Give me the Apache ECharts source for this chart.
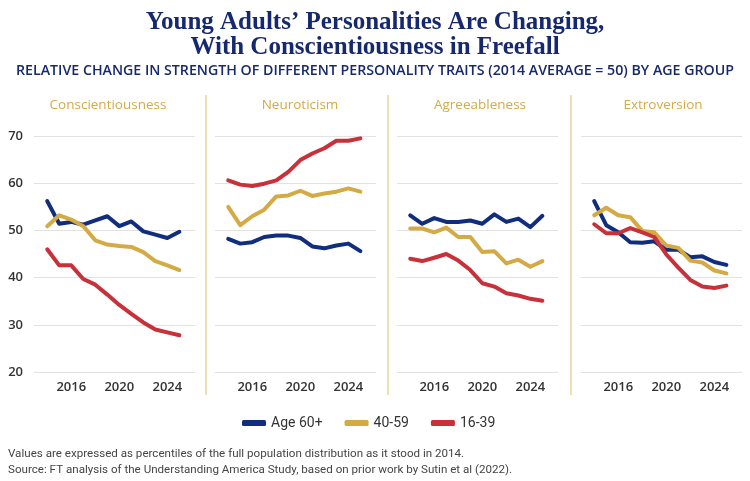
<!DOCTYPE html>
<html>
<head>
<meta charset="utf-8">
<script src="https://cdn.jsdelivr.net/npm/echarts@6.0.0/dist/echarts.min.js"></script>
<style>
  html, body { margin: 0; padding: 0; background: #fff; }
  #grafico { width: 750px; height: 481px; }
</style>
</head>
<body>
<div id="grafico"></div>
<script>
var years = [2014, 2015, 2016, 2017, 2018, 2019, 2020, 2021, 2022, 2023, 2024, 2025];
var yearTicks = [2016, 2020, 2024];
var traits = ['Conscientiousness', 'Neuroticism', 'Agreeableness', 'Extroversion'];
var groups = ['Age 60+', '40-59', '16-39'];

// Conscientiousness
var consc60 = [56.2, 51.4, 51.8, 51.2, 52.1, 53.0, 50.9, 51.9, 49.8, 49.1, 48.4, 49.7];
var consc40 = [50.9, 53.2, 52.3, 50.9, 47.9, 47.0, 46.7, 46.5, 45.4, 43.5, 42.6, 41.6];
var consc16 = [46.0, 42.6, 42.6, 39.7, 38.5, 36.4, 34.2, 32.3, 30.5, 29.0, 28.4, 27.8];
// Neuroticism
var neuro60 = [48.2, 47.2, 47.5, 48.6, 48.9, 48.9, 48.4, 46.6, 46.2, 46.8, 47.2, 45.6];
var neuro40 = [55.0, 51.1, 53.0, 54.4, 57.2, 57.4, 58.4, 57.3, 57.8, 58.2, 58.9, 58.2];
var neuro16 = [60.6, 59.7, 59.4, 59.9, 60.6, 62.4, 64.9, 66.3, 67.4, 69.0, 69.0, 69.5];
// Agreeableness
var agree60 = [53.2, 51.4, 52.6, 51.8, 51.8, 52.1, 51.4, 53.4, 51.8, 52.5, 50.7, 53.1];
var agree40 = [50.4, 50.4, 49.6, 50.6, 48.6, 48.6, 45.4, 45.6, 43.0, 43.8, 42.3, 43.5];
var agree16 = [44.0, 43.5, 44.2, 45.0, 43.6, 41.6, 38.8, 38.1, 36.7, 36.2, 35.5, 35.1];
// Extroversion
var extro60 = [56.2, 51.1, 49.6, 47.5, 47.4, 47.7, 45.9, 45.9, 44.3, 44.5, 43.3, 42.7];
var extro40 = [53.2, 54.8, 53.2, 52.8, 49.9, 49.6, 46.8, 46.3, 43.6, 43.2, 41.5, 40.9];
var extro16 = [51.3, 49.4, 49.4, 50.5, 49.6, 48.6, 44.9, 42.1, 39.5, 38.1, 37.8, 38.3];

var panelData = [
    [consc60, consc40, consc16],
    [neuro60, neuro40, neuro16],
    [agree60, agree40, agree16],
    [extro60, extro40, extro16]
];

var colors = ['#112d7e', '#d4aa45', '#c8303a'];
var gridLefts = [34, 215, 397, 581];
var titleCenters = [108, 300, 480, 663];
var sepX = [206, 388, 571];

var chartDom = document.getElementById('grafico');
var myChart = echarts.init(chartDom);

function pairs(vals) {
    return vals.map(function (v, i) { return [years[i], v]; });
}

var grids = [], xAxes = [], yAxes = [], series = [];
var titles = [
    {
        text: 'Young Adults\u2019 Personalities Are Changing,\nWith Conscientiousness in Freefall',
        left: 'center',
        top: 5,
        textStyle: {
            fontFamily: 'Liberation Serif',
            fontWeight: 'bold',
            fontSize: 25,
            lineHeight: 25,
            color: '#17296e'
        }
    },
    {
        text: 'RELATIVE CHANGE IN STRENGTH OF DIFFERENT PERSONALITY TRAITS (2014 AVERAGE = 50) BY AGE GROUP',
        left: 'center',
        top: 64,
        padding: 0,
        textStyle: {
            fontFamily: 'Open Sans',
            fontWeight: 600,
            fontSize: 14.2,
            color: '#17296e'
        }
    }
];

traits.forEach(function (t, p) {
    grids.push({ left: gridLefts[p], top: 136, width: 161, height: 236 });
    xAxes.push({
        gridIndex: p,
        type: 'value',
        min: 2012.9,
        max: 2026.3,
        axisLine: { show: false },
        axisTick: { show: false },
        splitLine: { show: false },
        axisLabel: {
            customValues: yearTicks,
            formatter: function (v) { return String(v); },
            margin: 9,
            fontFamily: 'Open Sans',
            fontWeight: 600,
            fontSize: 13,
            color: '#333'
        }
    });
    yAxes.push({
        gridIndex: p,
        type: 'value',
        min: 20,
        max: 70,
        interval: 10,
        axisLine: { show: false },
        axisTick: { show: false },
        splitLine: { lineStyle: { color: '#e2e2e2', width: 1 } },
        axisLabel: {
            show: p === 0,
            margin: 11,
            fontFamily: 'Open Sans',
            fontWeight: 600,
            fontSize: 13,
            color: '#333'
        }
    });
    titles.push({
        text: t,
        left: titleCenters[p],
        textAlign: 'center',
        top: 98,
        padding: 0,
        textStyle: {
            fontFamily: 'Open Sans',
            fontWeight: 500,
            fontSize: 13.5,
            color: '#d4aa45'
        }
    });
    groups.forEach(function (g, k) {
        series.push({
            name: g,
            type: 'line',
            xAxisIndex: p,
            yAxisIndex: p,
            data: pairs(panelData[p][k]),
            showSymbol: false,
            symbol: 'none',
            color: colors[k],
            lineStyle: { width: 4, color: colors[k], cap: 'round', join: 'round' }
        });
    });
});

var graphics = sepX.map(function (x) {
    return {
        type: 'line',
        shape: { x1: x, y1: 95, x2: x, y2: 395 },
        style: { stroke: '#e8d59d', lineWidth: 1.5 }
    };
});
graphics.push({
    type: 'text',
    left: 8,
    top: 446,
    style: {
        text: 'Values are expressed as percentiles of the full population distribution as it stood in 2014.\nSource: FT analysis of the Understanding America Study, based on prior work by Sutin et al (2022).',
        font: '11.6px Roboto',
        lineHeight: 16,
        fill: '#444'
    }
});

var option = {
    backgroundColor: '#fff',
    title: titles,
    grid: grids,
    xAxis: xAxes,
    yAxis: yAxes,
    legend: {
        data: groups,
        top: 411,
        left: 237,
        itemWidth: 24,
        itemHeight: 6,
        itemGap: 22,
        icon: 'roundRect',
        textStyle: { fontFamily: 'Roboto', fontSize: 14, color: '#333' }
    },
    graphic: graphics,
    series: series
};

myChart.setOption(option);
</script>
</body>
</html>
